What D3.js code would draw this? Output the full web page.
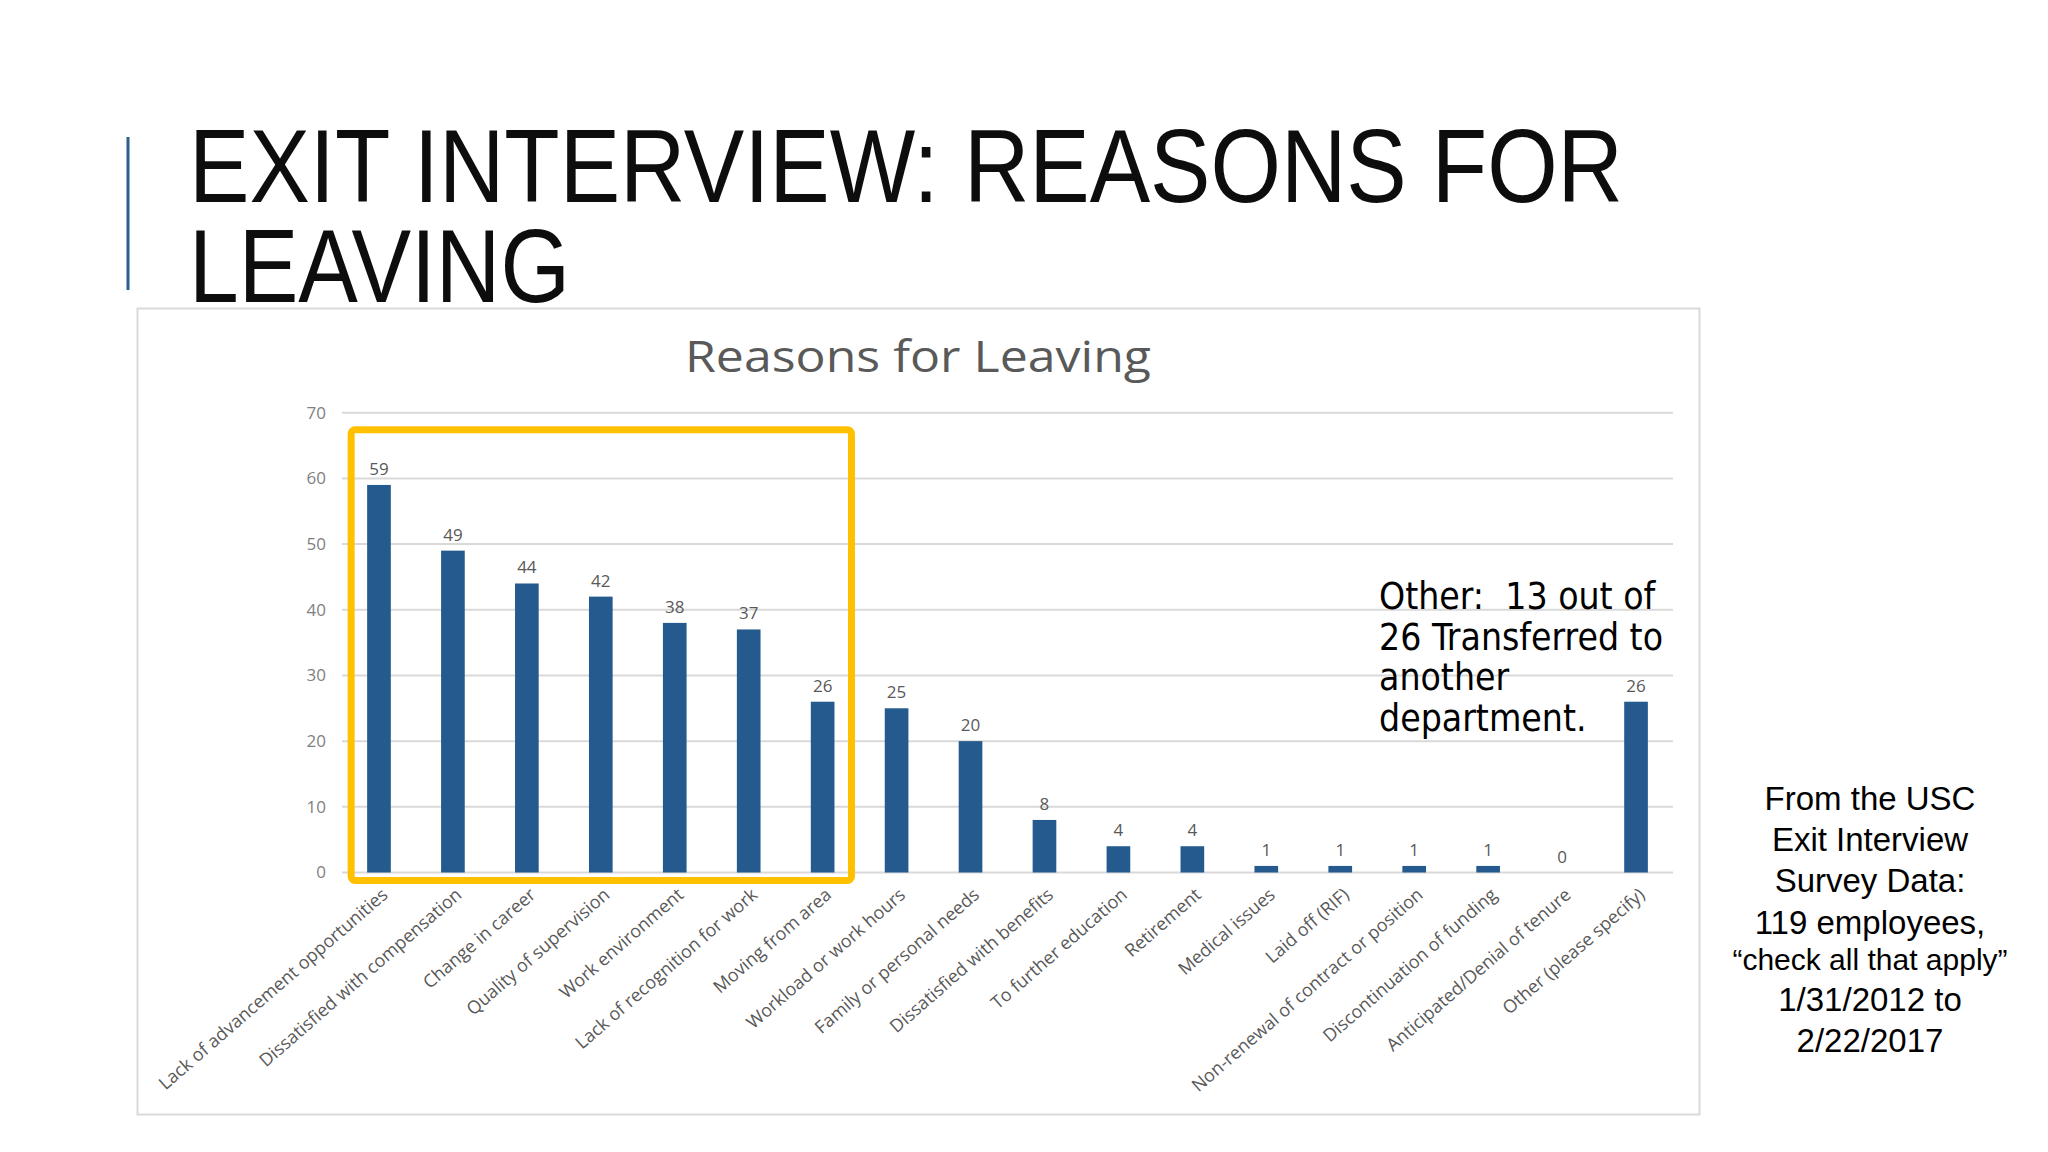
<!DOCTYPE html>
<html>
<head>
<meta charset="utf-8">
<script src="https://cdn.jsdelivr.net/npm/d3@7/dist/d3.min.js"></script>
<style>
  html, body { margin: 0; padding: 0; background: #fff; }
  svg { display: block; }
</style>
</head>
<body>
<div id="slide"></div>
<script>
// chart data
const categories = [
    "Lack of advancement opportunities",
    "Dissatisfied with compensation",
    "Change in career",
    "Quality of supervision",
    "Work environment",
    "Lack of recognition for work",
    "Moving from area",
    "Workload or work hours",
    "Family or personal needs",
    "Dissatisfied with benefits",
    "To further education",
    "Retirement",
    "Medical issues",
    "Laid off (RIF)",
    "Non-renewal of contract or position",
    "Discontinuation of funding",
    "Anticipated/Denial of tenure",
    "Other (please specify)"
];
const counts = [59, 49, 44, 42, 38, 37, 26, 25, 20, 8, 4, 4, 1, 1, 1, 1, 0, 26];
const yTicks = [0, 10, 20, 30, 40, 50, 60, 70];
const highlighted = categories.slice(0, 7);

const slideTitle = ["EXIT INTERVIEW: REASONS FOR", "LEAVING"];
const chartTitle = "Reasons for Leaving";
const otherNote = ["Other:  13 out of", "26 Transferred to", "another", "department."];
const sourceNote = ["From the USC", "Exit Interview", "Survey Data:", "119 employees,", "\u201Ccheck all that apply\u201D", "1/31/2012 to", "2/22/2017"];

const width = 2048, height = 1152;

const svg = d3.select("#slide").append("svg")
    .attr("width", width)
    .attr("height", height)
    .attr("viewBox", `0 0 ${width} ${height}`);

// slide heading + accent bar
svg.append("line")
    .attr("x1", 128).attr("x2", 128)
    .attr("y1", 137).attr("y2", 290)
    .attr("stroke", "#2b5f8f")
    .attr("stroke-width", 3);

// narrow look: squeeze Liberation Sans to the measured widths
const headWidths = [1434, 381];
svg.selectAll("text.heading")
    .data(slideTitle)
    .join("text")
    .classed("heading", true)
    .attr("x", 189)
    .attr("y", (d, i) => 202 + i * 100)
    .attr("textLength", (d, i) => headWidths[i])
    .attr("lengthAdjust", "spacingAndGlyphs")
    .style("font-family", "'Liberation Sans', Arial, sans-serif")
    .style("font-size", "104px")
    .style("fill", "#0d0d0d")
    .text(d => d);

// chart frame
svg.append("rect")
    .attr("x", 137.5).attr("y", 308.5)
    .attr("width", 1562).attr("height", 806)
    .attr("fill", "#fff")
    .attr("stroke", "#d9d9d9")
    .attr("stroke-width", 2);

svg.append("text")
    .attr("x", 918)
    .attr("y", 372)
    .attr("text-anchor", "middle")
    .attr("textLength", 466)
    .attr("lengthAdjust", "spacingAndGlyphs")
    .style("font-family", "'Open Sans', 'Noto Sans', sans-serif")
    .style("font-size", "44px")
    .style("fill", "#595959")
    .text(chartTitle);

// scales
const x = d3.scaleBand()
    .domain(categories)
    .range([342, 1673])
    .paddingInner(0.68)
    .paddingOuter(0.34);

const y = d3.scaleLinear()
    .domain([0, 70])
    .range([872.5, 412.7]);

const plot = svg.append("g");

// gridlines
plot.selectAll("line.grid")
    .data(yTicks)
    .join("line")
    .classed("grid", true)
    .attr("x1", 342).attr("x2", 1673)
    .attr("y1", d => y(d)).attr("y2", d => y(d))
    .attr("stroke", "#d9d9d9")
    .attr("stroke-width", 2);

// y axis labels
plot.selectAll("text.ytick")
    .data(yTicks)
    .join("text")
    .classed("ytick", true)
    .attr("x", 326)
    .attr("y", d => y(d))
    .attr("dy", "0.35em")
    .attr("text-anchor", "end")
    .style("font-family", "'Open Sans', 'Noto Sans', sans-serif")
    .style("font-size", "17px")
    .style("fill", "#7f7f7f")
    .text(d => d);

// bars
plot.selectAll("rect.bar")
    .data(categories)
    .join("rect")
    .classed("bar", true)
    .attr("x", d => x(d))
    .attr("width", x.bandwidth())
    .attr("y", (d, i) => y(counts[i]))
    .attr("height", (d, i) => y(0) - y(counts[i]))
    .attr("fill", "#255a8e");

// value labels
plot.selectAll("text.value")
    .data(categories)
    .join("text")
    .classed("value", true)
    .attr("x", d => x(d) + x.bandwidth() / 2)
    .attr("y", (d, i) => y(counts[i]) - 10)
    .attr("text-anchor", "middle")
    .style("font-family", "'Open Sans', 'Noto Sans', sans-serif")
    .style("font-size", "17px")
    .style("fill", "#595959")
    .text((d, i) => counts[i]);

// category labels, rotated
plot.selectAll("text.xtick")
    .data(categories)
    .join("text")
    .classed("xtick", true)
    .attr("transform", d => `translate(${x(d) + x.bandwidth() / 2 + 10},${y(0) + 24}) rotate(-41)`)
    .attr("text-anchor", "end")
    .style("font-family", "'Open Sans', 'Noto Sans', sans-serif")
    .style("font-size", "18px")
    .style("fill", "#595959")
    .text(d => d);

// yellow highlight box round the top seven reasons
const first = highlighted[0], last = highlighted[highlighted.length - 1];
plot.append("rect")
    .attr("x", x(first) - 16)
    .attr("y", y(67.4))
    .attr("width", x(last) + x.bandwidth() + 17 - (x(first) - 16))
    .attr("height", y(0) + 8 - y(67.4))
    .attr("rx", 4)
    .attr("fill", "none")
    .attr("stroke", "#ffc000")
    .attr("stroke-width", 7);

// "Other" note
svg.selectAll("text.other")
    .data(otherNote)
    .join("text")
    .classed("other", true)
    .attr("x", 1379)
    .attr("y", (d, i) => 609 + i * 40.7)
    .attr("xml:space", "preserve")
    .style("white-space", "pre")
    .style("font-family", "'DejaVu Sans Condensed', 'DejaVu Sans', sans-serif")
    .style("font-stretch", "condensed")
    .style("font-size", "37px")
    .style("fill", "#000")
    .text(d => d);

// source note on the right
const sourceY = [810, 851, 892, 934, 970, 1011, 1052];
svg.selectAll("text.source")
    .data(sourceNote)
    .join("text")
    .classed("source", true)
    .attr("x", 1870)
    .attr("y", (d, i) => sourceY[i])
    .attr("text-anchor", "middle")
    .style("font-family", "'Liberation Sans', Arial, sans-serif")
    .style("font-size", (d, i) => i === 4 ? "30px" : "33px")
    .style("fill", "#000")
    .text(d => d);
</script>
</body>
</html>
